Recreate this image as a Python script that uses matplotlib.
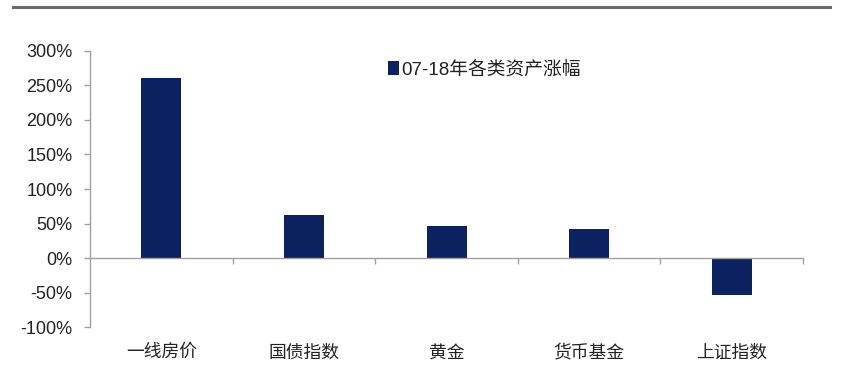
import numpy as np
import matplotlib.pyplot as plt
from matplotlib.lines import Line2D

### Data
categories = ['一线房价', '国债指数', '黄金', '货币基金', '上证指数']
values = [260, 62, 47, 42, -53]
series_name = '07-18年各类资产涨幅'
yticks = np.arange(-100, 301, 50)

### Style
plt.rcParams['font.family'] = ['Liberation Sans', 'Noto Sans CJK SC', 'DejaVu Sans']
barcolor = '#0c2160'
axcolor = '#a0a0a0'

fig = plt.figure(figsize=(8.43, 3.72), dpi=100)
ax = fig.add_axes([0.1068, 0.1199, 0.8458, 0.7438])

x = np.arange(len(categories))
ax.bar(x, values, width=0.28, color=barcolor, label=series_name, zorder=2)

ax.set_xlim(-0.5, len(categories) - 0.5)
ax.set_ylim(-100, 300)

### Spines
for s in ['top', 'right']:
    ax.spines[s].set_visible(False)
ax.spines['bottom'].set_position(('data', 0))
ax.spines['bottom'].set_color(axcolor)
ax.spines['left'].set_color(axcolor)
ax.spines['bottom'].set_linewidth(1.0)
ax.spines['left'].set_linewidth(1.0)

### Y ticks
ax.set_yticks(yticks)
ax.set_yticklabels(['%d%%' % v for v in yticks], fontsize=13, color='#222222')
ax.tick_params(axis='y', direction='out', length=4.5, width=1, color=axcolor, pad=8)

### X ticks: labels at centers, marks at boundaries
ax.set_xticks(x)
ax.set_xticklabels([])
ax.set_xticks(np.arange(0.5, len(categories), 1), minor=True)
ax.tick_params(axis='x', which='major', length=0)
ax.tick_params(axis='x', which='minor', direction='out', length=4.5, width=1, color=axcolor)
for xi, name in zip(x, categories):
    ax.text(xi, -136, name, ha='center', va='center', fontsize=12.8,
            family=['Noto Sans CJK SC'], color='#222222')

### Legend
le = ax.legend(loc='upper left', bbox_to_anchor=(0.408, 0.99), frameon=False,
               handlelength=0.55, handleheight=0.75, handletextpad=0.15,
               fontsize=13.5, borderaxespad=0)
for text in le.get_texts():
    text.set_color('#222222')

### Top rule
fig.add_artist(Line2D([0.015, 0.985], [0.981, 0.981], transform=fig.transFigure,
                      color='#6a6a6a', linewidth=2.2))

plt.savefig('out.png', dpi=100, facecolor='white')
